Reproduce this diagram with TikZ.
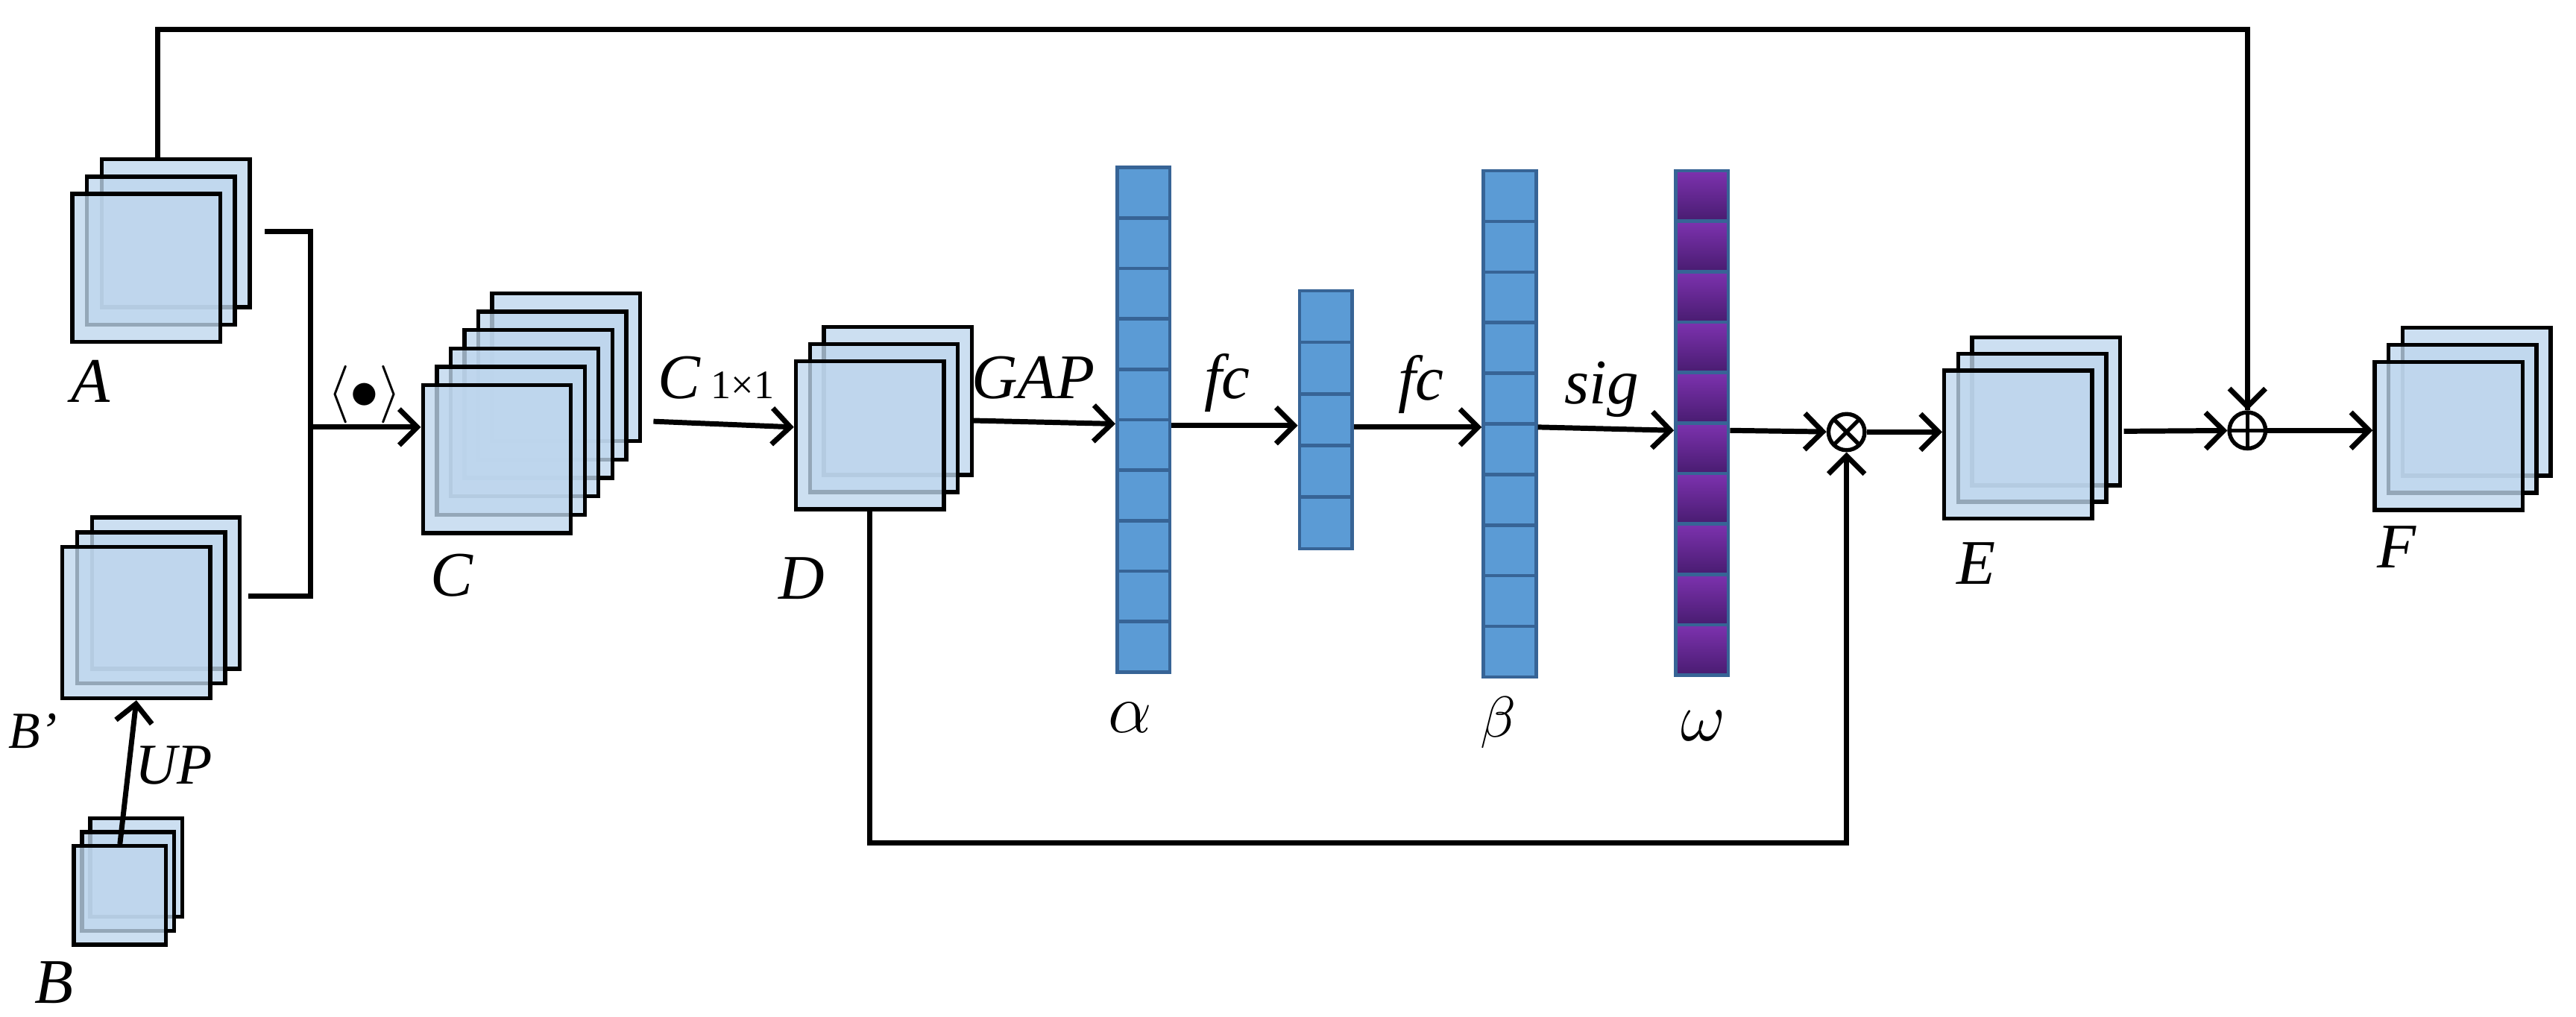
\documentclass[tikz,border=0pt]{standalone}
\usepackage{fontspec}
\setmainfont{Liberation Serif}
\usetikzlibrary{arrows.meta, calc, backgrounds}

\definecolor{layerblue}{RGB}{190,214,237}
\definecolor{cellblue}{RGB}{91,155,213}
\definecolor{cellline}{RGB}{55,100,150}
\definecolor{omegatop}{RGB}{125,50,175}
\definecolor{omegabot}{RGB}{72,28,112}

\tikzset{
  layer/.style={draw, line width=0.7pt, fill=layerblue, fill opacity=0.78,
                inner sep=0, minimum width=0.9cm, minimum height=0.9cm},
  column/.style={draw=cellline, line width=0.6pt, fill=cellblue, inner sep=0,
                 minimum width=0.32cm},
  op/.style={circle, draw, line width=0.7pt, inner sep=0, minimum size=0.22cm},
  lbl/.style={font=\fontsize{11}{13}\selectfont\itshape},
  flow/.style={line width=0.9pt, -{Straight Barb[length=1.1mm, width=2.2mm]}},
  wire/.style={line width=0.9pt}
}

% stack of feature maps: name, x, y, layers, dx, dy, width, height
\newcommand{\fmap}[8]{
  \foreach \i in {#4,...,1}
    \node[layer, minimum width=#7, minimum height=#8] at (#2+\i*#5, #3-\i*#6) {};
  \node[layer, minimum width=#7, minimum height=#8] (#1) at (#2,#3) {};
}

\begin{document}
\begin{tikzpicture}[x=0.01cm, y=-0.01cm]
\useasboundingbox (0,0) rectangle (1568,619);

% feature maps
\fmap{A}{89}{163}{2}{9}{10.5}{0.9cm}{0.9cm}
\fmap{Bp}{83}{379}{2}{9}{9}{0.9cm}{0.92cm}
\fmap{B}{73}{545}{2}{5}{8.5}{0.56cm}{0.6cm}
\fmap{C}{302.5}{279.5}{5}{8.4}{11.2}{0.9cm}{0.9cm}
\fmap{D}{529.5}{265}{2}{8.5}{10.5}{0.9cm}{0.9cm}
\fmap{E}{1228.5}{270.5}{2}{8.5}{10}{0.9cm}{0.9cm}
\fmap{F}{1490.5}{265.5}{2}{8.5}{10.5}{0.9cm}{0.9cm}

% vectors
\node[column, minimum height=3.07cm] (alpha) at (696,255.5) {};
\foreach \k in {1,...,9}
  \draw[cellline, line width=0.6pt] (680,102+\k*30.7) -- (712,102+\k*30.7);
\node[column, minimum height=1.57cm] (mid) at (807,255.5) {};
\foreach \k in {1,...,4}
  \draw[cellline, line width=0.6pt] (791,177+\k*31.4) -- (823,177+\k*31.4);
\node[column, minimum height=3.08cm] (beta) at (919,258) {};
\foreach \k in {1,...,9}
  \draw[cellline, line width=0.6pt] (903,104+\k*30.8) -- (935,104+\k*30.8);
\foreach \k in {0,...,9}
  \fill[top color=omegatop, bottom color=omegabot, draw=cellline, line width=0.6pt]
    (1020,104+\k*30.7) rectangle (1052,134.7+\k*30.7);
\node[inner sep=0, minimum width=0.32cm, minimum height=3.07cm,
      draw=cellline, line width=0.6pt] (omega) at (1036,257.5) {};

% operators
\node[op] (mul) at (1124,263) {};
\draw[line width=0.7pt] ($(mul)+(-8,-8)$) -- ($(mul)+(8,8)$)
                        ($(mul)+(-8,8)$) -- ($(mul)+(8,-8)$);
\node[op] (add) at (1368,262) {};
\draw[line width=0.7pt] ($(add)+(-11,0)$) -- ($(add)+(11,0)$)
                        ($(add)+(0,-11)$) -- ($(add)+(0,11)$);

% connectors
\coordinate (j1) at (189,260);
\coordinate (top) at (96,18);
\begin{scope}[on background layer]
  \draw[wire] ($(A.north)+(7,-20)$) -- (top) -| (add);
\end{scope}
\draw[flow] (top -| add) -- (add);
\draw[wire] ($(A.east)+(26,-22)$) -| (j1);
\draw[wire] ($(Bp.east)+(22,-16)$) -| (j1);
\draw[flow] (j1) -- (C.west |- j1);
\draw[flow] ($(C.east)+(49,-23)$) -- ($(D.west)+(0,-5)$);
\draw[flow] ($(D.east)+(17,-9)$) -- (alpha.west |- 0,258);
\draw[flow] (alpha.east |- 0,259) -- (mid.west |- 0,259);
\draw[flow] (mid.east |- 0,260) -- (beta.west |- 0,260);
\draw[flow] (beta.east |- 0,260) -- (omega.west |- 0,262);
\draw[flow] (omega.east |- 0,262) -- (mul);
\draw[flow] (mul) -- (E.west |- mul);
\draw[flow] ($(E.east)+(18,-8)$) -- (add);
\draw[flow] (add) -- (F.west |- add);
\draw[wire] (D.south) -- ++(0,202) -| ([yshift=-6]mul.south);
\draw[flow] (mul.south |- 330,300) -- (mul.south);
\draw[flow] (B.north) -- (Bp.south);

% labels
\node[lbl] at (55,232) {A};
\node[lbl, font=\fontsize{9}{11}\selectfont\itshape] at (20,445) {B'};
\node[lbl] at (33,598) {B};
\node[lbl, font=\fontsize{10}{12}\selectfont\itshape] at (106,466) {UP};
\node at (222,240) {$\langle\bullet\rangle$};
\node[lbl] at (275,350) {C};
\node[lbl] at (436,230) {C\,{\fontsize{7}{8}\selectfont\upshape 1×1}};
\node[lbl] at (488,352) {D};
\node[lbl] at (629,230) {GAP};
\node[lbl] at (747,233) {fc};
\node[lbl] at (865,234) {fc};
\node[lbl] at (975,237) {sig};
\node at (688,437) {\large$\alpha$};
\node at (912,440) {$\beta$};
\node at (1037,442) {\large$\omega$};
\node[lbl] at (1203,343) {E};
\node[lbl] at (1459,333) {F};
\end{tikzpicture}
\end{document}
